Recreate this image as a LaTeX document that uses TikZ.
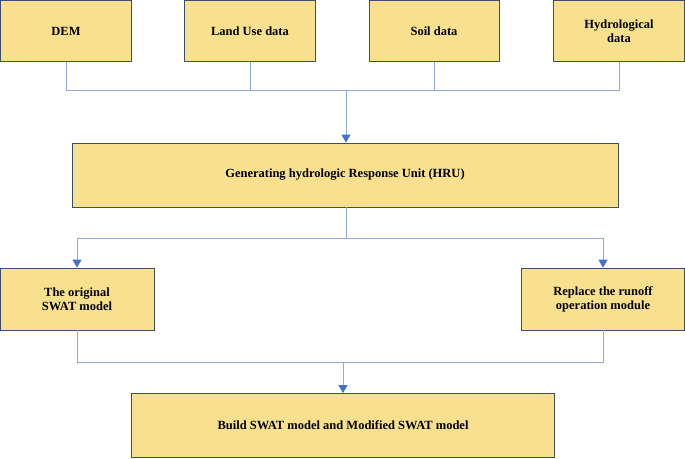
\documentclass[tikz,border=0pt]{standalone}
\usepackage{fontspec}
\setmainfont{Liberation Serif}
\usetikzlibrary{arrows.meta}
\definecolor{boxfill}{HTML}{F8E08E}
\definecolor{boxline}{HTML}{3A4F6E}
\definecolor{linkline}{HTML}{8FAADC}
\definecolor{tipblue}{HTML}{4472C4}
\begin{document}
\begin{tikzpicture}[x=1pt,y=-1pt,
    box/.style={draw=boxline,line width=0.8pt,fill=boxfill,align=center,
      font=\fontsize{12.5}{14}\selectfont\bfseries,inner sep=0pt},
    link/.style={draw=linkline,line width=1pt},
    flow/.style={link,-{Triangle[length=8pt,width=9pt,color=tipblue]}}]
    % page frame
    \useasboundingbox (0,0) rectangle (685,458);

    % input data
    \node[box,minimum width=131pt,minimum height=61pt] (dem) at (66,31) {DEM};
    \node[box,minimum width=131pt,minimum height=61pt] (land) at (250,31) {Land Use data};
    \node[box,minimum width=130pt,minimum height=61pt] (soil) at (434,31) {Soil data};
    \node[box,minimum width=131pt,minimum height=61pt] (hydro) at (619,31) {Hydrological\\data};

    % HRU
    \node[box,minimum width=546pt,minimum height=64pt] (hru) at (345,175)
        {Generating hydrologic Response Unit (HRU)};

    % two models
    \node[box,minimum width=154pt,minimum height=62pt] (orig) at (77,299)
        {The original\\SWAT model};
    \node[box,minimum width=163pt,minimum height=62pt] (repl) at (603,299)
        {Replace the runoff\\operation module};

    % result
    \node[box,minimum width=423pt,minimum height=64pt] (build) at (343,425.5)
        {Build SWAT model and Modified SWAT model};

    % connectors
    \coordinate (top) at (346,90);
    \draw[link] (dem.south) -- (dem.south |- top) -- (hydro.south |- top) -- (hydro.south);
    \draw[link] (land.south) -- (land.south |- top);
    \draw[link] (soil.south) -- (soil.south |- top);
    \draw[flow] (top) -- (top |- hru.north);

    \coordinate (mid) at (346,238);
    \draw[link] (mid |- hru.south) -- (mid);
    \draw[flow] (mid) -- (orig.north |- mid) -- (orig.north);
    \draw[flow] (mid) -- (repl.north |- mid) -- (repl.north);

    \coordinate (low) at (343,362);
    \draw[link] (orig.south) -- (orig.south |- low) -- (repl.south |- low) -- (repl.south);
    \draw[flow] (low) -- (build.north);
\end{tikzpicture}
\end{document}
